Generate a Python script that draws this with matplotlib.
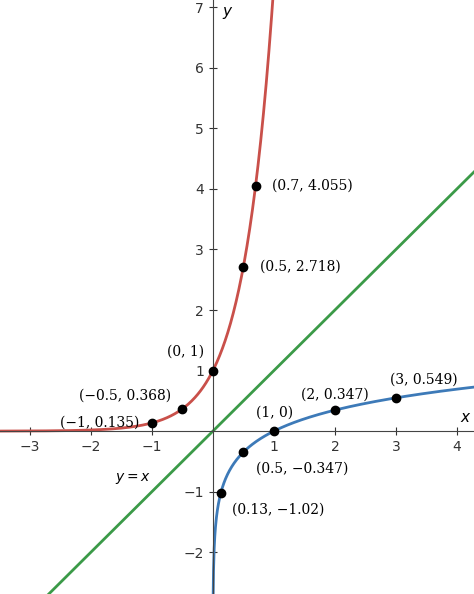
import numpy as np
import matplotlib
matplotlib.use("Agg")
import matplotlib.pyplot as plt

red_pts_x = [-1, -0.5, 0, 0.5, 0.7]
red_pts_y = [0.135, 0.368, 1, 2.718, 4.055]
red_labels = ["(−1, 0.135)", "(−0.5, 0.368)", "(0, 1)", "(0.5, 2.718)", "(0.7, 4.055)"]
red_offs = [(-1.5, 0.0), (-1.7, 0.22), (-0.75, 0.32), (0.27, 0.0), (0.27, 0.0)]
blue_pts_x = [0.13, 0.5, 1, 2, 3]
blue_pts_y = [-1.02, -0.347, 0, 0.347, 0.549]
blue_labels = ["(0.13, −1.02)", "(0.5, −0.347)", "(1, 0)", "(2, 0.347)", "(3, 0.549)"]
blue_offs = [(0.18, -0.28), (0.2, -0.28), (-0.3, 0.3), (-0.55, 0.25), (-0.1, 0.3)]

fig = plt.figure(figsize=(4.74, 5.94), dpi=100)
ax = fig.add_axes([0, 0, 1, 1])
ax.set_xlim(-3.49, 4.28)
ax.set_ylim(-2.69, 7.12)
for s in ['top', 'right']:
    ax.spines[s].set_visible(False)
ax.spines['left'].set_position(('data', 0))
ax.spines['bottom'].set_position(('data', 0))
ax.spines['left'].set_color('#444444')
ax.spines['bottom'].set_color('#444444')
ax.set_xticks([-3, -2, -1, 1, 2, 3, 4])
ax.set_yticks([-2, -1, 1, 2, 3, 4, 5, 6, 7])
ax.tick_params(direction='inout', length=6, labelsize=10, colors='#333333')

xr = np.linspace(-3.49, 0.99, 500)
ax.plot(xr, np.exp(2 * xr), color='#c9504a', lw=2)
xb = np.linspace(0.0046, 4.28, 800)
ax.plot(xb, np.log(xb) / 2, color='#3d7ab8', lw=2)
xg = np.linspace(-3.49, 4.28, 10)
ax.plot(xg, xg, color='#3b9a48', lw=2)

ax.scatter(red_pts_x + blue_pts_x, red_pts_y + blue_pts_y, color='black', s=36, zorder=5)
for x, y, t, (dx, dy) in zip(red_pts_x + blue_pts_x, red_pts_y + blue_pts_y,
                             red_labels + blue_labels, red_offs + blue_offs):
    ax.text(x + dx, y + dy, t, fontsize=10, family='DejaVu Serif', va='center')
ax.text(-1.6, -0.82, "$y = x$", fontsize=10)
ax.text(4.05, 0.15, "$x$", fontsize=11)
ax.text(0.15, 6.85, "$y$", fontsize=11)
fig.savefig("out.png", dpi=100)
